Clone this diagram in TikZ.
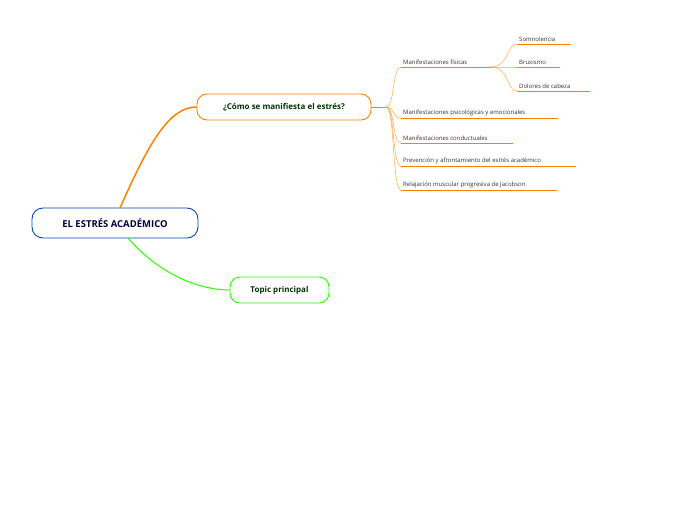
\documentclass[tikz,border=0pt]{standalone}
\usepackage{fontspec}
\setmainfont{Open Sans}
\begin{document}
\begin{tikzpicture}[x=1pt,y=-1pt,
 root/.style={draw=blue!60!cyan!70!black,line width=0.9pt,rounded corners=11pt,fill=white,minimum width=166pt,minimum height=30pt,font=\fontsize{9.5}{11}\selectfont\bfseries,text=blue!25!black},
 main/.style={draw=orange,line width=0.9pt,rounded corners=10pt,fill=white,minimum height=26pt,font=\fontsize{8}{10}\selectfont\bfseries,text=green!20!black},
 leaf/.style={anchor=south west,font=\fontsize{6}{7}\selectfont,text=black!80,inner sep=2pt},
 ul/.style={draw=orange,line width=1pt},
 br/.style={draw=orange!70,line width=0.5pt}]
\useasboundingbox (0,0) rectangle (696,520);
\node[root] (r) at (115,223) {EL ESTRÉS ACADÉMICO};
\node[main,minimum width=174pt] (c) at (284,107) {¿Cómo se manifiesta el estrés?};
\node[main,draw=green!80!lime,minimum width=99pt] (t) at (279.5,290) {Topic principal};
\draw[orange,line width=1.5pt] (120,208) .. controls (150,140) and (170,107) .. (c.west);
\draw[green!80!lime,line width=1pt] (128,238) .. controls (160,275) and (200,290) .. (t.west);
\coordinate (h) at (386,107);
\draw[orange,line width=1pt] (c.east) -- (h);
% level 2
\foreach \n/\y/\xe/\t in {a/67/490/Manifestaciones físicas, b/118/558/Manifestaciones psicológicas y emocionales, d/143/513/Manifestaciones conductuales, e/166/576/Prevención y afrontamiento del estrés académico, f/190/557/Relajación muscular progresiva de Jacobson}{
 \coordinate (\n s) at (401,\y); \coordinate (\n e) at (\xe,\y);
 \draw[ul] (\n s) -- (\n e);
 \node[leaf] (\n) at (\n s) {\t};
 \draw[br] (h) .. controls (395,107) and (392,\y) .. (\n s);
}
\coordinate (ah) at (502,67);
\foreach \n/\y/\xe/\t in {s/44/571/Somnolencia, x/67/560/Bruxismo, k/91/590/Dolores de cabeza}{
 \coordinate (\n s) at (517,\y); \coordinate (\n e) at (\xe,\y);
 \draw[ul] (\n s) -- (\n e);
 \node[leaf] (\n) at (\n s) {\t};
 \draw[br] (ae) .. controls (510,67) and (506,\y) .. (\n s);
}
\end{tikzpicture}
\end{document}
